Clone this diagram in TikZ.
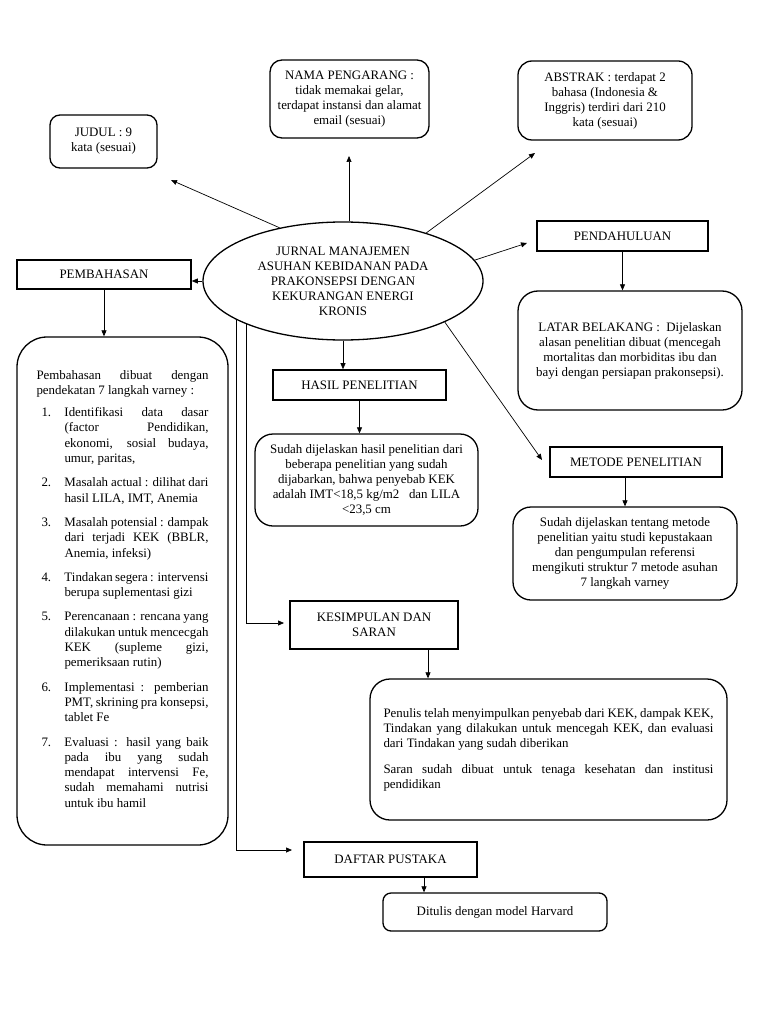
\documentclass[tikz,border=0pt]{standalone}
\usepackage{fontspec}
\setmainfont{Liberation Serif}
\usepackage{tikz}
\usetikzlibrary{arrows.meta, positioning, shapes, shapes.geometric}

\begin{document}
\begin{tikzpicture}[x=1pt, y=-1pt,
    every node/.style={font=\fontsize{12.9}{15}\selectfont, align=center},
    rbox/.style={draw, rounded corners=12pt, line width=1.3pt},
    sbox/.style={draw, rectangle, line width=1.6pt},
    link/.style={line width=0.7pt, -{Triangle[length=6pt, width=5pt]}}]

    \useasboundingbox (0,0) rectangle (768,1024);

    % Centre of the map
    \node (jurnal) [draw, ellipse, line width=1.3pt, minimum width=280pt,
        minimum height=118pt, inner sep=0pt] at (343,281)
        {JURNAL MANAJEMEN\\ ASUHAN KEBIDANAN PADA\\ PRAKONSEPSI DENGAN\\
         KEKURANGAN ENERGI\\ KRONIS};

    % Boxes at the top
    \node (judul) [rbox, rounded corners=10pt, minimum width=107pt, minimum height=53pt]
        at (103.5,141.5) {JUDUL : 9\\ kata (sesuai)};
    \node (nama) [rbox, minimum width=159pt, minimum height=78pt] at (349.5,99)
        {NAMA PENGARANG :\\ tidak memakai gelar,\\ terdapat instansi dan alamat\\ email (sesuai)};
    \node (abstrak) [rbox, rounded corners=14pt, minimum width=174pt, minimum height=79pt]
        at (605,100.5) {ABSTRAK : terdapat 2\\ bahasa (Indonesia \&\\ Inggris) terdiri dari 210\\ kata (sesuai)};

    % Right column
    \node (pendahuluan) [sbox, minimum width=171pt, minimum height=30pt] at (622.5,236) {PENDAHULUAN};
    \node (latar) [rbox, rounded corners=20pt, minimum width=224pt, minimum height=119pt]
        at (630,350.5) {LATAR BELAKANG :\ \ Dijelaskan\\ alasan penelitian dibuat (mencegah\\
        mortalitas dan morbiditas ibu dan\\ bayi dengan persiapan prakonsepsi).};
    \node (metode) [sbox, minimum width=172pt, minimum height=30pt] at (636,462) {METODE PENELITIAN};
    \node (metodeisi) [rbox, rounded corners=18pt, minimum width=224pt, minimum height=93pt]
        at (625,553.5) {Sudah dijelaskan tentang metode\\ penelitian yaitu studi kepustakaan\\
        dan pengumpulan referensi\\ mengikuti struktur 7 metode asuhan\\ 7 langkah varney};

    % Middle column
    \node (hasil) [sbox, minimum width=173pt, minimum height=30pt] at (359.5,385) {HASIL PENELITIAN};
    \node (hasilisi) [rbox, rounded corners=18pt, minimum width=223pt, minimum height=92pt]
        at (366.5,480) {Sudah dijelaskan hasil penelitian dari\\ beberapa penelitian yang sudah\\
        dijabarkan, bahwa penyebab KEK\\ adalah IMT<18,5 kg/m2\ \ \ dan LILA\\ <23,5 cm};
    \node (kesimpulan) [sbox, minimum width=168pt, minimum height=48pt] at (374,625)
        {KESIMPULAN DAN\\ SARAN};
    \node (kesimpulanisi) [rbox, rounded corners=20pt, minimum width=357pt, minimum height=141pt,
        text width=330pt, align=justify] at (548.5,749.5)
        {Penulis telah menyimpulkan penyebab dari KEK, dampak KEK,\linebreak
         Tindakan yang dilakukan untuk mencegah KEK, dan evaluasi\linebreak
         dari Tindakan yang sudah diberikan\par\vspace{11pt}
         Saran sudah dibuat untuk tenaga kesehatan dan institusi\linebreak pendidikan};
    \node (daftar) [sbox, minimum width=173pt, minimum height=35pt] at (390.5,859.5) {DAFTAR PUSTAKA};
    \node (daftarisi) [rbox, rounded corners=8pt, minimum width=224pt, minimum height=38pt]
        at (495,912) {Ditulis dengan model Harvard};

    % Left column
    \node (pembahasan) [sbox, minimum width=174pt, minimum height=29pt] at (104,274.5) {PEMBAHASAN};
    \node (pembahasanisi) [rbox, rounded corners=30pt, minimum width=211pt, minimum height=508pt,
        text width=172pt, align=justify, font=\fontsize{12.9}{15.3}\selectfont] at (122.5,591)
        {Pembahasan dibuat dengan\linebreak pendekatan 7 langkah varney :\par\vspace{7pt}
         \noindent\begin{tabular}[t]{@{\hspace{5pt}}p{23pt}@{}p{144pt}@{}}
         1. & Identifikasi data dasar\linebreak (factor Pendidikan,\linebreak
              ekonomi, sosial budaya,\linebreak umur, paritas,\\[9pt]
         2. & Masalah actual : dilihat dari\linebreak hasil LILA, IMT, Anemia\\[9pt]
         3. & Masalah potensial : dampak\linebreak dari terjadi KEK (BBLR,\linebreak Anemia, infeksi)\\[9pt]
         4. & Tindakan segera : intervensi\linebreak berupa suplementasi gizi\\[9pt]
         5. & Perencanaan : rencana yang\linebreak dilakukan untuk mencecgah\linebreak
              KEK (supleme gizi,\linebreak pemeriksaan rutin)\\[9pt]
         6. & Implementasi : pemberian\linebreak PMT, skrining pra konsepsi,\linebreak tablet Fe\\[9pt]
         7. & Evaluasi : hasil yang baik\linebreak pada ibu yang sudah\linebreak
              mendapat intervensi Fe,\linebreak sudah memahami nutrisi\linebreak untuk ibu hamil
         \end{tabular}\par\vspace{12pt}};

    % Free ends of the arrows
    \coordinate (tjudul) at (171,180);
    \coordinate (tnama) at (349,156);
    \coordinate (tabstrak) at (535,153);
    \coordinate (tpendahuluan) at (527,243);
    \coordinate (tmetode) at (542,460);
    \coordinate (tkesimpulan) at (284,623);
    \coordinate (tdaftar) at (292,850);
    \coordinate (kturun) at ([xshift=54pt]kesimpulan.south);
    \coordinate (dturun) at ([xshift=33.5pt]daftar.south);

    % Arrows from the centre
    \draw[link] (jurnal.140) -- (tjudul);
    \draw[link] (jurnal.north -| tnama) -- (tnama);
    \draw[link] (jurnal.30) -- (tabstrak);
    \draw[link] (jurnal.9) -- (tpendahuluan);
    \draw[link] (jurnal.west) -- (pembahasan.east |- jurnal.west);
    \draw[link] (jurnal.south) -- (jurnal.south |- hasil.north);
    \draw[link] (jurnal.-22) -- (tmetode);
    \draw[link] (jurnal.204) |- (tkesimpulan);
    \draw[link] (jurnal.200) |- (tdaftar);

    % Arrows down to the contents
    \draw[link] (pendahuluan.south) -- (pendahuluan.south |- latar.north);
    \draw[link] (metodeisi.north |- metode.south) -- (metodeisi.north);
    \draw[link] (hasil.south) -- (hasil.south |- hasilisi.north);
    \draw[link] (kturun) -- (kturun |- kesimpulanisi.north);
    \draw[link] (dturun) -- (dturun |- daftarisi.north);
    \draw[link] (pembahasan.south) -- (pembahasan.south |- pembahasanisi.north);

\end{tikzpicture}
\end{document}
